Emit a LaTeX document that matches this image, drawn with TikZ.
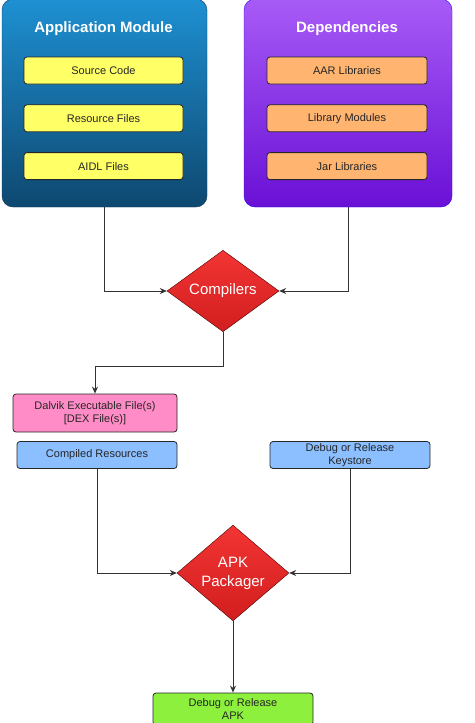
\documentclass[tikz,border=0pt]{standalone}
\usepackage{fontspec}
\setmainfont{Liberation Sans}
\usetikzlibrary{positioning,shapes.geometric,arrows.meta}

\definecolor{appTop}{HTML}{1E90D2}
\definecolor{appBot}{HTML}{0E4870}
\definecolor{depTop}{HTML}{A75BF6}
\definecolor{depBot}{HTML}{6A10D6}
\definecolor{srcFill}{HTML}{FFFF66}
\definecolor{libFill}{HTML}{FFB470}
\definecolor{dexFill}{HTML}{FF8CC6}
\definecolor{resFill}{HTML}{8CBFFF}
\definecolor{apkFill}{HTML}{8CF03C}
\definecolor{redTop}{HTML}{F23434}
\definecolor{redBot}{HTML}{D21E1E}

\begin{document}
\begin{tikzpicture}[x=1pt, y=-1pt, >={Stealth[length=7pt,width=6pt]}]
        \tikzset{GroupStyle/.style={rounded corners=11pt, minimum width=#1,
            minimum height=208pt, inner sep=0pt}}
        \tikzset{ItemStyle/.style={draw=black!85, line width=0.8pt, rounded corners=3pt,
            minimum width=160pt, minimum height=27pt, inner sep=1pt,
            align=center, text=black!85, font=\fontsize{11}{13}\selectfont}}
        \tikzset{StepStyle/.style={diamond, draw=red!30!black, top color=redTop,
            bottom color=redBot, minimum width=112pt, minimum height=75pt,
            inner sep=0pt, align=center, text=white,
            font=\fontsize{15}{19}\selectfont}}
        \tikzset{TitleStyle/.style={text=white, font=\fontsize{15}{18}\selectfont\bfseries}}
        \tikzset{FlowStyle/.style={->, draw=black!80, line width=0.9pt}}

        \useasboundingbox (0,0) rectangle (474,723);

        % input groups
        \node[GroupStyle=205pt, draw=appBot!80!black, top color=appTop,
          bottom color=appBot] (app) at (104.5,103) {};
        \node[GroupStyle=208pt, draw=blue!60!depBot, top color=depTop,
          bottom color=depBot] (deps) at (348,103) {};
        \node[TitleStyle] (appTitle) at (103.5,29) {Application Module};
        \node[TitleStyle] (depsTitle) at (347,29) {Dependencies};

        \node[ItemStyle, fill=srcFill, minimum width=159pt] (src) at (103.5,70.5) {Source Code};
        \node[ItemStyle, fill=srcFill, minimum width=159pt, below=20pt of src] (res) {Resource Files};
        \node[ItemStyle, fill=srcFill, minimum width=159pt, below=20pt of res] (aidl) {AIDL Files};

        \node[ItemStyle, fill=libFill] (aar) at (347,70.5) {AAR Libraries};
        \node[ItemStyle, fill=libFill, below=20pt of aar] (libmod) {Library Modules};
        \node[ItemStyle, fill=libFill, below=20pt of libmod] (jar) {Jar Libraries};

        \node[StepStyle] (comp) at (223,291) {Compilers};

        \node[ItemStyle, fill=dexFill, minimum width=164pt, minimum height=38pt]
          (dex) at (95,413) {Dalvik Executable File(s)\\{}[DEX File(s)]};
        \node[ItemStyle, fill=resFill] (cres) at (97,455) {Compiled Resources};
        \node[ItemStyle, fill=resFill] (keys) at (350,455) {Debug or Release\\Keystore};

        \node[StepStyle, minimum height=74pt] (apk) at (233,573) {APK\\Packager};
        \node[ItemStyle, fill=apkFill, minimum height=32pt] (out) at (233,709)
          {Debug or Release\\APK};

        \draw[FlowStyle] (app.south) |- (comp.west);
        \draw[FlowStyle] (deps.south) |- (comp.east);
        \draw[FlowStyle] (comp.south) -- ++(0,34) -| (dex.north);
        \draw[FlowStyle] (cres.south) |- (apk.west);
        \draw[FlowStyle] (keys.south) |- (apk.east);
        \draw[FlowStyle] (apk.south) -- (out.north);
\end{tikzpicture}
\end{document}
